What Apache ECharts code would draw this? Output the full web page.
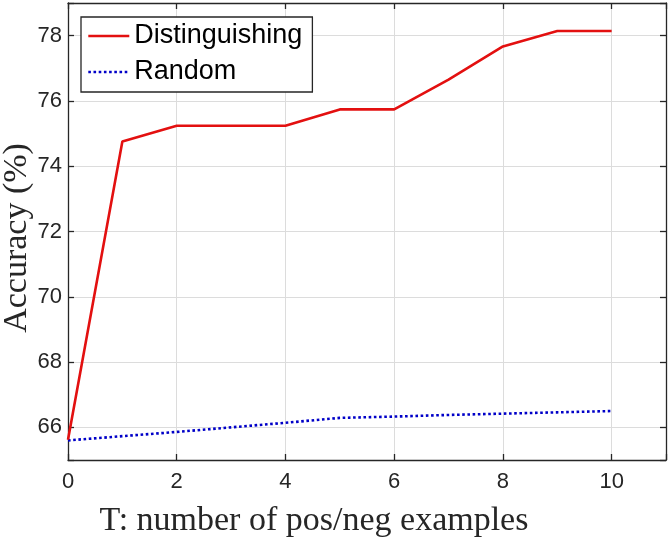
<!DOCTYPE html>
<html>
<head>
<meta charset="utf-8">
<script src="https://cdn.jsdelivr.net/npm/echarts@6/dist/echarts.min.js"></script>
<style>html,body{margin:0;padding:0;background:#fff}#c{width:669px;height:539px}</style>
</head>
<body>
<div id="c"></div>
<script>
const xValues = [0, 1, 2, 3, 4, 5, 6, 7, 8, 9, 10];
const distinguishing = [65.62, 74.76, 75.24, 75.24, 75.24, 75.74, 75.74, 76.65, 77.67, 78.14, 78.14];
const random = [65.6, 65.73, 65.86, 66.0, 66.14, 66.29, 66.33, 66.38, 66.42, 66.46, 66.5];
const xTitle = 'T: number of pos/neg examples';
const yTitle = 'Accuracy (%)';

const chart = echarts.init(document.getElementById('c'), null, {renderer: 'canvas'});
const txt = '#262626';
const pair = arr => xValues.map((x, i) => [x, arr[i]]);
const baseX = {
  type: 'value', min: 0, max: 11, interval: 2,
  axisLine: {show: true, onZero: false, lineStyle: {color: '#262626', width: 1.3}},
  axisTick: {show: true, inside: true, length: 6, lineStyle: {color: '#262626', width: 1.3}},
  splitLine: {show: false}
};
const baseY = {
  type: 'value', min: 65, max: 79, splitNumber: 7,
  axisLine: {show: true, onZero: false, lineStyle: {color: '#262626', width: 1.3}},
  axisTick: {show: true, inside: true, length: 6, lineStyle: {color: '#262626', width: 1.3}},
  splitLine: {show: false}
};
chart.setOption({
  animation: false,
  backgroundColor: '#fff',
  grid: {left: 68, right: 2, top: 3, bottom: 79, containLabel: false},
  xAxis: [
    Object.assign({}, baseX, {
      position: 'bottom',
      axisLabel: {show: true, color: txt, fontSize: 22, fontFamily: 'Liberation Sans', margin: 11,
        formatter: v => (v % 2 === 0 && v <= 10) ? String(v) : ''},
      splitLine: {show: true, lineStyle: {color: '#dcdcdc', width: 1}}
    }),
    Object.assign({}, baseX, {position: 'top', axisLabel: {show: false}})
  ],
  yAxis: [
    Object.assign({}, baseY, {
      position: 'left',
      axisLabel: {show: true, color: txt, fontSize: 22, fontFamily: 'Liberation Sans', margin: 6,
        formatter: v => (v % 2 === 0) ? String(v) : ''},
      splitLine: {show: true, lineStyle: {color: '#dcdcdc', width: 1}}
    }),
    Object.assign({}, baseY, {position: 'right', axisLabel: {show: false}})
  ],
  legend: {
    show: true, orient: 'vertical', left: 81, top: 17,
    padding: [4, 10, 5, 6], itemGap: 6, itemWidth: 41, itemHeight: 30,
    backgroundColor: '#fff', borderColor: '#262626', borderWidth: 1.3, borderRadius: 0,
    itemStyle: {opacity: 0},
    lineStyle: {width: 2.6},
    textStyle: {color: '#000', fontSize: 27, fontFamily: 'Liberation Sans', lineHeight: 30},
    data: ['Distinguishing', 'Random']
  },
  series: [
    {name: 'Distinguishing', type: 'line', data: pair(distinguishing), showSymbol: false, symbol: 'none',
      lineStyle: {color: '#e31010', width: 2.6}, itemStyle: {color: '#e31010'}, z: 3},
    {name: 'Random', type: 'line', data: pair(random), showSymbol: false, symbol: 'none',
      lineStyle: {color: '#0000c8', width: 2.6, type: [2.6, 2.6]}, itemStyle: {color: '#0000c8'}, z: 2}
  ],
  graphic: [
    {type: 'text', x: 314, y: 521, style: {text: xTitle, fill: txt, font: '34px "Liberation Serif"', align: 'center', verticalAlign: 'middle'}},
    {type: 'text', x: 17, y: 238, rotation: Math.PI / 2, style: {text: yTitle, fill: txt, font: '34px "Liberation Serif"', align: 'center', verticalAlign: 'middle'}}
  ]
});
</script>
</body>
</html>
